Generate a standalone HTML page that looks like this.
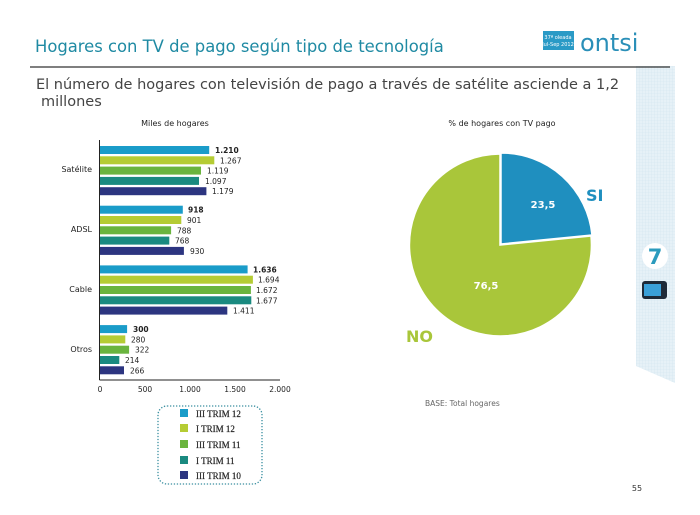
<!DOCTYPE html>
<html><head><meta charset="utf-8"><style>
body{margin:0;width:700px;height:510px;background:#fff;overflow:hidden;font-family:"Liberation Sans","DejaVu Sans",sans-serif}
</style></head><body>
<svg width="700" height="510" xmlns="http://www.w3.org/2000/svg" font-family="'DejaVu Sans','Liberation Sans',sans-serif">
<defs><pattern id="g" width="3" height="3" patternUnits="userSpaceOnUse"><rect width="3" height="3" fill="#e6f1f7"/><path d="M0 0H3M0 0V3" stroke="#d2e5ef" stroke-width="0.6"/></pattern></defs>
<polygon points="636,66 675,66 675,383 636,366" fill="url(#g)"/>
<circle cx="655" cy="256" r="13" fill="#fff"/>
<text x="655" y="264" text-anchor="middle" font-size="21" font-weight="bold" fill="#2b9bbd">7</text>
<rect x="642" y="281" width="25" height="18" rx="3" fill="#1e2a38"/><rect x="644" y="284" width="17" height="12" fill="#3aa0d8"/>
<text x="35" y="52" font-size="16.4" fill="#1f8aa3">Hogares con TV de pago según tipo de tecnología</text>
<rect x="543" y="31" width="31" height="19" fill="#2a9ac6"/>
<text x="558" y="39" font-size="5" fill="#fff" text-anchor="middle">37ª oleada</text>
<text x="558" y="46" font-size="5" fill="#fff" text-anchor="middle">Jul-Sep 2012</text>
<text x="580" y="51" font-size="24" fill="#2a8fb8">ontsi</text>
<line x1="30" y1="67" x2="670" y2="67" stroke="#333" stroke-width="1.2"/>
<text x="36" y="89" font-size="14.5" fill="#444">El número de hogares con televisión de pago a través de satélite asciende a 1,2</text>
<text x="41" y="106" font-size="14.5" fill="#444">millones</text>
<text x="175" y="126" font-size="8" fill="#222" text-anchor="middle">Miles de hogares</text>
<text x="502" y="126" font-size="8" fill="#222" text-anchor="middle">% de hogares con TV pago</text>
<g font-size="8" fill="#222">
<line x1="99.5" y1="140" x2="99.5" y2="380" stroke="#222"/>
<line x1="99.5" y1="380" x2="280" y2="380" stroke="#222"/>
<g text-anchor="middle" font-size="7.5"><text x="100" y="392">0</text><text x="145" y="392">500</text><text x="190" y="392">1.000</text><text x="235" y="392">1.500</text><text x="280" y="392">2.000</text></g>
<g text-anchor="end"><text x="92" y="172">Satélite</text><text x="92" y="232">ADSL</text><text x="92" y="292">Cable</text><text x="92" y="352">Otros</text></g>
</g>
<path d="M500,245 L500,154 A91,91 0 1,0 591,236 Z" fill="#a9c63a" stroke="#fff" stroke-width="1.5"/>
<path d="M501,244 L501,153 A91,91 0 0,1 592,235 Z" fill="#1f8fbf" stroke="#fff" stroke-width="1.5"/>
<text x="543" y="208" font-size="10" font-weight="bold" fill="#fff" text-anchor="middle">23,5</text>
<text x="486" y="289" font-size="10" font-weight="bold" fill="#fff" text-anchor="middle">76,5</text>
<text x="586" y="201" font-size="16" font-weight="bold" fill="#1f8fbf">SI</text>
<text x="406" y="342" font-size="16" font-weight="bold" fill="#a9c63a">NO</text>
<text x="425" y="406" font-size="7.5" fill="#666">BASE: Total hogares</text>
<rect x="158" y="406" width="104" height="78" rx="9" fill="none" stroke="#3a8fa0" stroke-width="1.3" stroke-dasharray="1.3,1.7"/>
<g font-family="'Liberation Serif',serif" font-size="9" fill="#222" stroke="#222" stroke-width="0.2">
<rect x="180" y="409" width="8" height="8" fill="#1a9cc9" stroke="none"/><text x="196" y="417">III TRIM 12</text>
<rect x="180" y="424" width="8" height="8" fill="#b5cc34" stroke="none"/><text x="196" y="432">I TRIM 12</text>
<rect x="180" y="440" width="8" height="8" fill="#6ab43e" stroke="none"/><text x="196" y="448">III TRIM 11</text>
<rect x="180" y="456" width="8" height="8" fill="#1a8a80" stroke="none"/><text x="196" y="464">I TRIM 11</text>
<rect x="180" y="471" width="8" height="8" fill="#2c3580" stroke="none"/><text x="196" y="479">III TRIM 10</text>
</g>
<text x="637" y="491" font-size="8" fill="#333" text-anchor="middle">55</text>
<g font-size="7.5" fill="#222">
<rect x="100" y="146" width="109.2" height="8" fill="#1a9cc9"/><text x="215" y="153" font-weight="bold">1.210</text>
<rect x="100" y="156.3" width="114.3" height="8" fill="#b5cc34"/><text x="220" y="163.3">1.267</text>
<rect x="100" y="166.6" width="101" height="8" fill="#6ab43e"/><text x="207" y="173.6">1.119</text>
<rect x="100" y="176.9" width="99" height="8" fill="#1a8a80"/><text x="205" y="183.9">1.097</text>
<rect x="100" y="187.2" width="106.4" height="8" fill="#2c3580"/><text x="212" y="194.2">1.179</text>
<rect x="100" y="205.7" width="82.8" height="8" fill="#1a9cc9"/><text x="188" y="212.7" font-weight="bold">918</text>
<rect x="100" y="216" width="81.3" height="8" fill="#b5cc34"/><text x="187" y="223">901</text>
<rect x="100" y="226.3" width="71.1" height="8" fill="#6ab43e"/><text x="177" y="233.3">788</text>
<rect x="100" y="236.6" width="69.3" height="8" fill="#1a8a80"/><text x="175" y="243.6">768</text>
<rect x="100" y="246.9" width="83.9" height="8" fill="#2c3580"/><text x="190" y="253.9">930</text>
<rect x="100" y="265.4" width="147.6" height="8" fill="#1a9cc9"/><text x="253" y="272.4" font-weight="bold">1.636</text>
<rect x="100" y="275.7" width="152.9" height="8" fill="#b5cc34"/><text x="258" y="282.7">1.694</text>
<rect x="100" y="286" width="150.9" height="8" fill="#6ab43e"/><text x="256" y="293">1.672</text>
<rect x="100" y="296.3" width="151.3" height="8" fill="#1a8a80"/><text x="256" y="303.3">1.677</text>
<rect x="100" y="306.6" width="127.3" height="8" fill="#2c3580"/><text x="233" y="313.6">1.411</text>
<rect x="100" y="325.1" width="27.1" height="8" fill="#1a9cc9"/><text x="133" y="332.1" font-weight="bold">300</text>
<rect x="100" y="335.4" width="25.3" height="8" fill="#b5cc34"/><text x="131" y="342.4">280</text>
<rect x="100" y="345.7" width="29.1" height="8" fill="#6ab43e"/><text x="135" y="352.7">322</text>
<rect x="100" y="356" width="19.3" height="8" fill="#1a8a80"/><text x="125" y="363">214</text>
<rect x="100" y="366.3" width="24" height="8" fill="#2c3580"/><text x="130" y="373.3">266</text>
</g>
</svg>
</body></html>
